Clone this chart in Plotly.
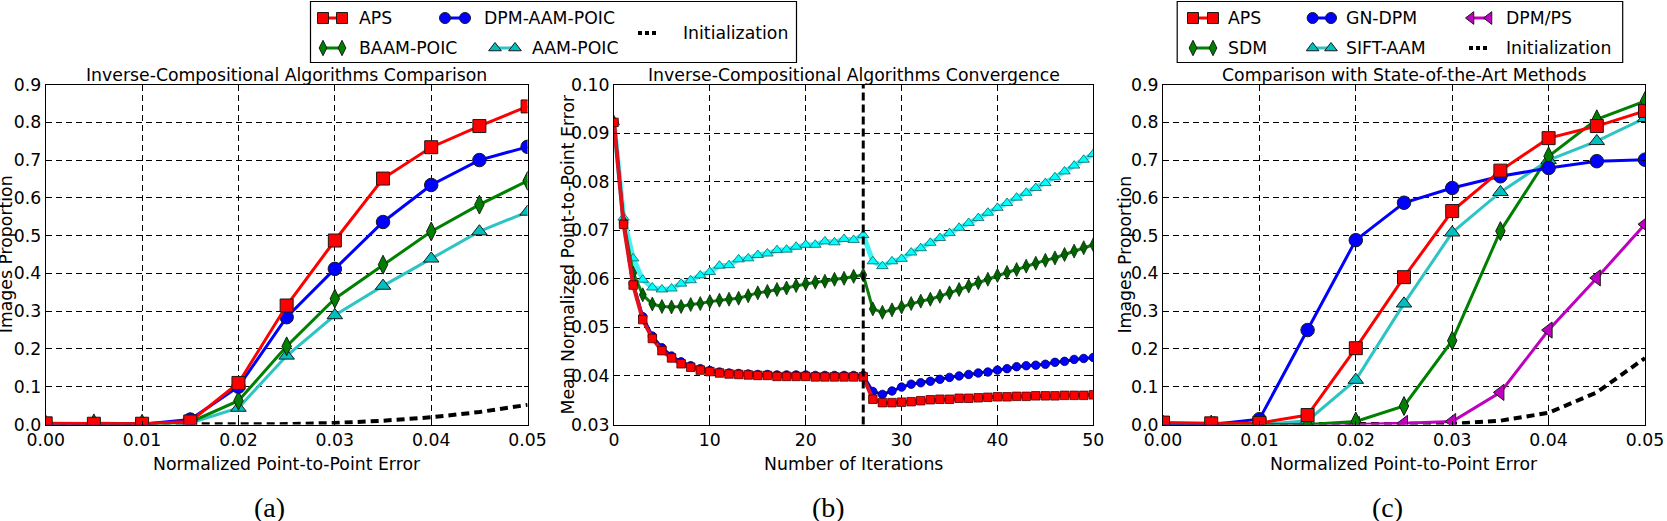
import plotly.graph_objects as go

W, H = 1667, 521

# ------------------------------------------------------------------ data
err_x = [0.000, 0.005, 0.010, 0.015, 0.020, 0.025, 0.030, 0.035, 0.040, 0.045, 0.050]

# (a) Inverse-Compositional Algorithms Comparison
a_aps = [0.003, 0.002, 0.002, 0.008, 0.110, 0.315, 0.487, 0.651, 0.734, 0.790, 0.842]
a_dpm = [0.000, 0.000, 0.001, 0.013, 0.100, 0.284, 0.412, 0.536, 0.634, 0.700, 0.735]
a_baam = [0.000, 0.003, 0.002, 0.006, 0.063, 0.207, 0.333, 0.423, 0.511, 0.582, 0.645]
a_aam = [0.000, 0.002, 0.001, 0.004, 0.044, 0.182, 0.289, 0.367, 0.439, 0.511, 0.563]
a_init = [0.000, 0.000, 0.000, 0.000, 0.000, 0.001, 0.004, 0.010, 0.019, 0.033, 0.052]

# (b) Inverse-Compositional Algorithms Convergence
iters = list(range(0, 51))
b_aps = [0.0922, 0.0712, 0.0587, 0.0516, 0.0477, 0.0452, 0.0437, 0.0425, 0.0418, 0.0412,
         0.0409, 0.0406, 0.0404, 0.0403, 0.0402, 0.0401, 0.0401, 0.0399, 0.0399, 0.0399,
         0.0399, 0.0398, 0.0398, 0.0398, 0.0398, 0.0398, 0.0398, 0.0352, 0.0345, 0.0345,
         0.0346, 0.0347, 0.0349, 0.0351, 0.0352, 0.0352, 0.0354, 0.0354, 0.0355, 0.0356,
         0.0357, 0.0357, 0.0358, 0.0358, 0.0359, 0.0359, 0.0359, 0.0360, 0.0360, 0.0360,
         0.0361]
b_dpm = [0.0922, 0.0715, 0.0590, 0.0522, 0.0482, 0.0458, 0.0441, 0.0429, 0.0421, 0.0415,
         0.0411, 0.0408, 0.0406, 0.0405, 0.0404, 0.0403, 0.0403, 0.0402, 0.0402, 0.0402,
         0.0402, 0.0401, 0.0401, 0.0401, 0.0401, 0.0401, 0.0401, 0.0368, 0.0362, 0.0369,
         0.0377, 0.0383, 0.0386, 0.0389, 0.0393, 0.0397, 0.0400, 0.0403, 0.0406, 0.0408,
         0.0412, 0.0415, 0.0419, 0.0421, 0.0422, 0.0424, 0.0428, 0.0430, 0.0434, 0.0436,
         0.0438]
b_baam = [0.0922, 0.0718, 0.0612, 0.0567, 0.0548, 0.0543, 0.0542, 0.0543, 0.0547, 0.0549,
          0.0553, 0.0556, 0.0558, 0.0560, 0.0565, 0.0571, 0.0574, 0.0578, 0.0581, 0.0586,
          0.0590, 0.0593, 0.0595, 0.0599, 0.0601, 0.0605, 0.0608, 0.0538, 0.0531, 0.0536,
          0.0542, 0.0549, 0.0554, 0.0558, 0.0564, 0.0571, 0.0578, 0.0585, 0.0592, 0.0599,
          0.0607, 0.0613, 0.0619, 0.0626, 0.0632, 0.0638, 0.0643, 0.0650, 0.0657, 0.0664,
          0.0670]
b_aam = [0.0922, 0.0726, 0.0642, 0.0598, 0.0582, 0.0578, 0.0580, 0.0590, 0.0597, 0.0607,
         0.0614, 0.0627, 0.0628, 0.0640, 0.0642, 0.0649, 0.0652, 0.0659, 0.0660, 0.0666,
         0.0670, 0.0670, 0.0677, 0.0675, 0.0682, 0.0680, 0.0690, 0.0636, 0.0626, 0.0636,
         0.0641, 0.0654, 0.0663, 0.0674, 0.0684, 0.0694, 0.0705, 0.0715, 0.0725, 0.0736,
         0.0746, 0.0756, 0.0767, 0.0777, 0.0787, 0.0797, 0.0809, 0.0821, 0.0833, 0.0845,
         0.0857]
switch_iter = 26

# (c) Comparison with State-of-the-Art Methods
c_aps = [0.005, 0.003, 0.004, 0.025, 0.202, 0.390, 0.565, 0.672, 0.758, 0.790, 0.830]
c_gndpm = [0.000, 0.000, 0.014, 0.250, 0.488, 0.587, 0.626, 0.657, 0.679, 0.697, 0.701]
c_sdm = [0.000, 0.000, 0.000, 0.000, 0.008, 0.049, 0.222, 0.512, 0.710, 0.808, 0.856]
c_sift = [0.000, 0.002, 0.000, 0.010, 0.118, 0.320, 0.508, 0.615, 0.700, 0.750, 0.811]
c_dpmps = [0.000, 0.000, 0.000, 0.000, 0.000, 0.003, 0.008, 0.085, 0.250, 0.388, 0.530]
c_init = [0.000, 0.000, 0.000, 0.000, 0.000, 0.000, 0.002, 0.010, 0.031, 0.085, 0.176]

titles = ["Inverse-Compositional Algorithms Comparison",
          "Inverse-Compositional Algorithms Convergence",
          "Comparison with State-of-the-Art Methods"]
xlabels = ["Normalized Point-to-Point Error", "Number of Iterations",
           "Normalized Point-to-Point Error"]
ylabels = ["Images Proportion", "Mean Normalized Point-to-Point Error", "Images Proportion"]
letters = ["(a)", "(b)", "(c)"]

# ------------------------------------------------------------------ styles
FONT = "DejaVu Sans"
FS = 17.3
TFS = 17.3
RED, BLUE, GREEN, CYAN, MAG = "#FF0000", "#0000FF", "#008000", "#00BFBF", "#BF00BF"
EDGE = dict(color="#1a1a1a", width=1)

# panel pixel boxes (left, right) and common (top, bottom)
PX = [(45.7, 527.6), (614.0, 1093.3), (1163.0, 1645.0)]
TOP, BOT = 84.5, 424.5


def fx(p):
    return p / W


def fy(p):
    return 1 - p / H


fig = go.Figure()

STY_A = {
    "APS": dict(line=dict(color=RED, width=3), marker=dict(symbol="square", size=13, color=RED, line=EDGE)),
    "DPM-AAM-POIC": dict(line=dict(color=BLUE, width=3), marker=dict(symbol="circle", size=13.5, color=BLUE, line=EDGE)),
    "BAAM-POIC": dict(line=dict(color=GREEN, width=3), marker=dict(symbol="diamond-tall", size=13.5, color=GREEN, line=EDGE)),
    "AAM-POIC": dict(line=dict(color="#2EC4C4", width=3), marker=dict(symbol="triangle-up", size=13.5, color=CYAN, line=EDGE)),
    "Initialization": dict(line=dict(color="black", width=4, dash="8px,5px"), marker=None),
}
STY_C = {
    "APS": STY_A["APS"],
    "GN-DPM": STY_A["DPM-AAM-POIC"],
    "DPM/PS": dict(line=dict(color=MAG, width=3), marker=dict(symbol="triangle-left", size=14, color=MAG, line=EDGE)),
    "SDM": STY_A["BAAM-POIC"],
    "SIFT-AAM": STY_A["AAM-POIC"],
    "Initialization": STY_A["Initialization"],
}
STY_B = {
    "AAM-POIC": dict(line=dict(color="#3FF4F4", width=5), marker=dict(symbol="triangle-up", size=10, color="#00FFFF", line=dict(color="#106060", width=0.8))),
    "BAAM-POIC": dict(line=dict(color="#0A800A", width=3), marker=dict(symbol="diamond-tall", size=10, color="#006400", line=dict(color="#0a2a0a", width=0.8))),
    "DPM-AAM-POIC": dict(line=dict(color="#0000CC", width=3), marker=dict(symbol="circle", size=8.5, color=BLUE, line=dict(color="#000060", width=0.8))),
    "APS": dict(line=dict(color="#E0101C", width=4), marker=dict(symbol="square", size=8.5, color=RED, line=dict(color="#500000", width=0.8))),
}


def add(x, y, sty, xa, ya):
    kw = dict(x=x, y=y, xaxis=xa, yaxis=ya, showlegend=False, hoverinfo="skip",
              line=sty["line"], cliponaxis=True)
    if sty["marker"] is None:
        kw["mode"] = "lines"
    else:
        kw["mode"] = "lines+markers"
        kw["marker"] = sty["marker"]
    fig.add_trace(go.Scatter(**kw))


# (a) : drawn bottom -> top
add(err_x, a_init, STY_A["Initialization"], "x", "y")
add(err_x, a_aam, STY_A["AAM-POIC"], "x", "y")
add(err_x, a_baam, STY_A["BAAM-POIC"], "x", "y")
add(err_x, a_dpm, STY_A["DPM-AAM-POIC"], "x", "y")
add(err_x, a_aps, STY_A["APS"], "x", "y")

# (b)
add(iters, b_aam, STY_B["AAM-POIC"], "x2", "y2")
add(iters, b_baam, STY_B["BAAM-POIC"], "x2", "y2")
add(iters, b_dpm, STY_B["DPM-AAM-POIC"], "x2", "y2")
add(iters, b_aps, STY_B["APS"], "x2", "y2")

# (c)
add(err_x, c_init, STY_C["Initialization"], "x3", "y3")
add(err_x, c_dpmps, STY_C["DPM/PS"], "x3", "y3")
add(err_x, c_sift, STY_C["SIFT-AAM"], "x3", "y3")
add(err_x, c_sdm, STY_C["SDM"], "x3", "y3")
add(err_x, c_gndpm, STY_C["GN-DPM"], "x3", "y3")
add(err_x, c_aps, STY_C["APS"], "x3", "y3")


def axis(dom, rng, dtick, fmt, anchor, **kw):
    d = dict(domain=dom, range=rng, dtick=dtick, tick0=0, tickformat=fmt, anchor=anchor,
             showline=True, linecolor="black", linewidth=1, mirror="allticks",
             ticks="inside", ticklen=4, tickcolor="black", tickwidth=1,
             showgrid=True, gridcolor="black", gridwidth=1, griddash="6px,4px",
             zeroline=False, fixedrange=True, automargin=False,
             tickfont=dict(family=FONT, size=TFS, color="black"))
    d.update(kw)
    return d


ydom = [fy(BOT), fy(TOP)]
layout = dict(
    width=W, height=H, margin=dict(l=0, r=0, t=0, b=0, pad=0, autoexpand=False),
    paper_bgcolor="white", plot_bgcolor="rgba(0,0,0,0)",
    font=dict(family=FONT, size=FS, color="black"),
    xaxis=axis([fx(PX[0][0]), fx(PX[0][1])], [0, 0.05], 0.01, ".2f", "y"),
    yaxis=axis(ydom, [0, 0.9], 0.1, ".1f", "x"),
    xaxis2=axis([fx(PX[1][0]), fx(PX[1][1])], [0, 50], 10, "d", "y2"),
    yaxis2=axis(ydom, [0.03, 0.10], 0.01, ".2f", "x2"),
    xaxis3=axis([fx(PX[2][0]), fx(PX[2][1])], [0, 0.05], 0.01, ".2f", "y3"),
    yaxis3=axis(ydom, [0, 0.9], 0.1, ".1f", "x3"),
    # overlay in pixel units, used only for the two legend boxes
    xaxis4=dict(domain=[0, 1], range=[0, W], visible=False, anchor="y4", fixedrange=True,
                automargin=False),
    yaxis4=dict(domain=[0, 1], range=[H, 0], visible=False, anchor="x4", fixedrange=True,
                automargin=False),
)
fig.update_layout(**layout)

ann = []
shapes = []

# titles, axis labels, panel letters
ylab_off = [-40.0, -47.0, -39.0]
letter_x = [269.6, 828.0, 1387.0]
for i in range(3):
    l, r = PX[i]
    cx = (l + r) / 2
    ann.append(dict(text=titles[i], x=fx(cx), y=fy(75), xref="paper", yref="paper",
                    xanchor="center", yanchor="middle", showarrow=False,
                    font=dict(family=FONT, size=FS)))
    ann.append(dict(text=xlabels[i], x=fx(cx), y=fy(464), xref="paper", yref="paper",
                    xanchor="center", yanchor="middle", showarrow=False,
                    font=dict(family=FONT, size=FS)))
    ann.append(dict(text=ylabels[i], x=fx(l + ylab_off[i]), y=fy((TOP + BOT) / 2),
                    xref="paper", yref="paper", xanchor="center", yanchor="middle",
                    textangle=-90, showarrow=False, font=dict(family=FONT, size=FS)))
    ann.append(dict(text=letters[i], x=fx(letter_x[i]), y=fy(507), xref="paper", yref="paper",
                    xanchor="center", yanchor="middle", showarrow=False,
                    font=dict(family="Liberation Serif", size=28, color="black")))

# vertical switch line in (b)
shapes.append(dict(type="line", xref="x2", yref="y2 domain", x0=switch_iter, x1=switch_iter,
                   y0=0, y1=1, line=dict(color="black", width=3, dash="8px,4px"), layer="above"))

# legend boxes (pixel layout on overlay axis)
LEG_A = dict(box=(310.5, 1.5, 796.5, 62.5), items=[
    ("APS", STY_A["APS"], 323, 342, 356.5, 18),
    ("DPM-AAM-POIC", STY_A["DPM-AAM-POIC"], 445, 465, 481.5, 18),
    ("BAAM-POIC", STY_A["BAAM-POIC"], 323, 342, 356.5, 48),
    ("AAM-POIC", STY_A["AAM-POIC"], 495, 515, 530, 48),
    ("Initialization", STY_A["Initialization"], 638, 659, 681, 33),
])
LEG_C = dict(box=(1177.2, 1.5, 1622.7, 62.5), items=[
    ("APS", STY_C["APS"], 1193, 1213, 1225.5, 18),
    ("GN-DPM", STY_C["GN-DPM"], 1312.6, 1331, 1344, 18),
    ("DPM/PS", STY_C["DPM/PS"], 1471, 1489, 1504, 18),
    ("SDM", STY_C["SDM"], 1193, 1213, 1225.5, 48),
    ("SIFT-AAM", STY_C["SIFT-AAM"], 1312.6, 1331, 1344, 48),
    ("Initialization", STY_C["Initialization"], 1469, 1488, 1504, 48),
])
for leg in (LEG_A, LEG_C):
    x0, y0, x1, y1 = leg["box"]
    shapes.append(dict(type="rect", xref="x4", yref="y4", x0=x0, y0=y0, x1=x1, y1=y1,
                       line=dict(color="black", width=1.2), fillcolor="white", layer="below"))
    for name, sty, m1, m2, tx, ty in leg["items"]:
        if sty["marker"] is None:
            lsty = dict(line=dict(color="black", width=4, dash="4px,3px"), marker=None)
        else:
            lsty = dict(line=sty["line"], marker=dict(sty["marker"], size=11))
        add([m1, m2], [ty, ty], lsty, "x4", "y4")
        ann.append(dict(text=name, x=tx, y=ty, xref="x4", yref="y4", xanchor="left",
                        yanchor="middle", showarrow=False, font=dict(family=FONT, size=FS)))

fig.update_layout(annotations=ann, shapes=shapes)
fig.write_html(
    "out.html",
    config={"displayModeBar": False, "staticPlot": True},
    post_script="document.body.style.margin='0';document.body.style.overflow='hidden';",
)
